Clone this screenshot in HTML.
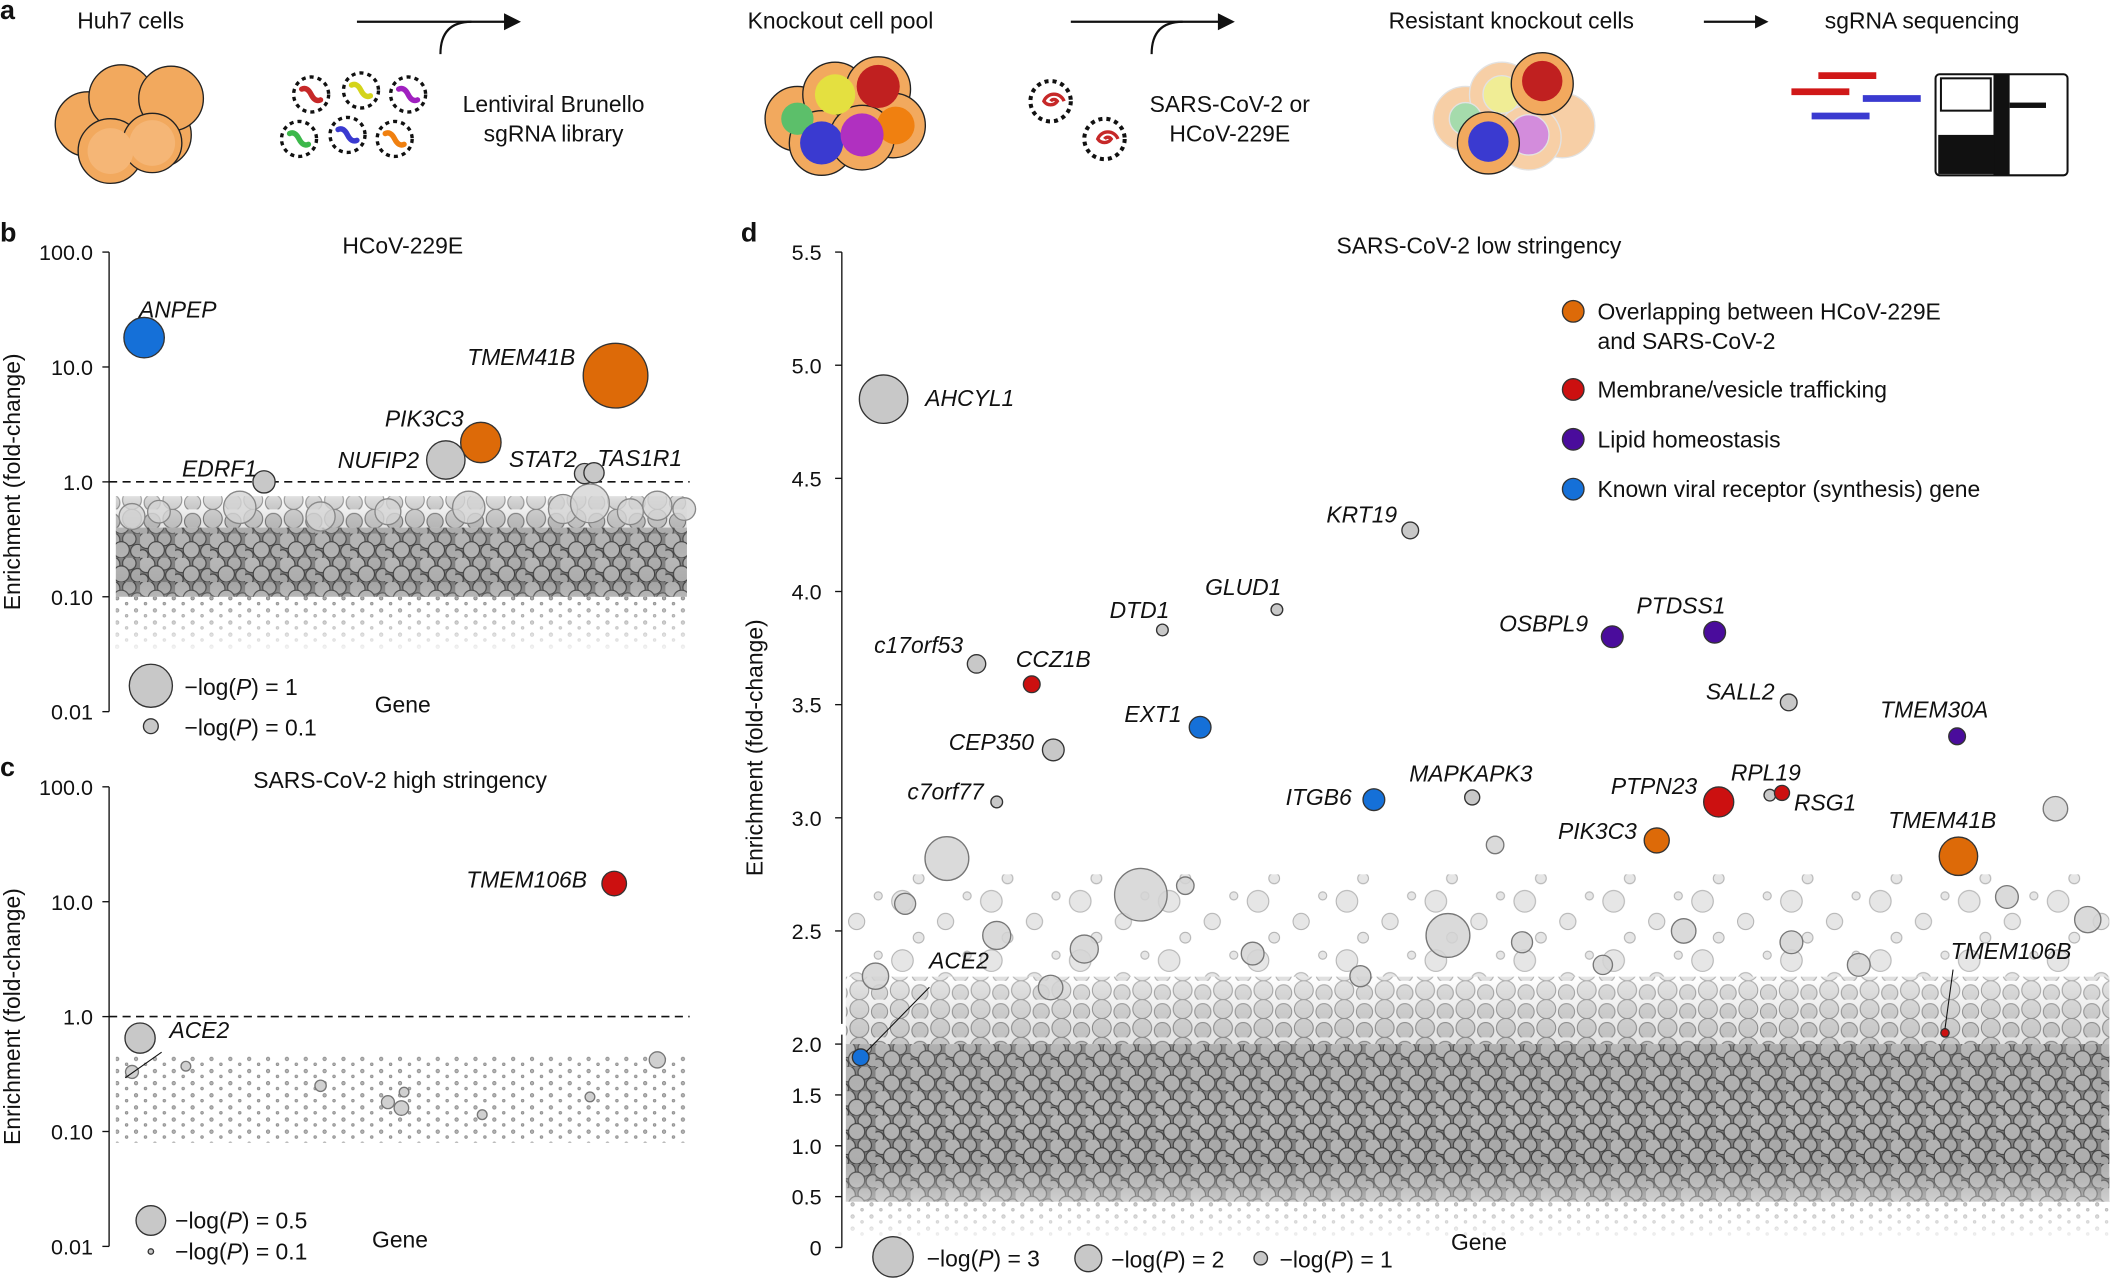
<!DOCTYPE html>
<html><head><meta charset="utf-8"><style>
html,body{margin:0;padding:0;background:#fff}
svg{display:block}
text{font-family:"Liberation Sans",Arial,sans-serif;fill:#111}
.gn{font-style:italic;font-size:17px}
.tk{font-size:16px}
.ti{font-size:17px}
</style></head><body>
<svg id="fig" xmlns="http://www.w3.org/2000/svg" width="2112" height="1280" viewBox="0 0 1568 950">
<defs>
<pattern id="dense" width="26" height="18" patternUnits="userSpaceOnUse">
<rect width="26" height="18" fill="#8e8e8e"/>
<circle cx="5" cy="5" r="6" fill="#c8c8c8" stroke="#444" stroke-width="0.8"/>
<circle cx="18" cy="4" r="5" fill="#bdbdbd" stroke="#444" stroke-width="0.8"/>
<circle cx="12" cy="12" r="6" fill="#c4c4c4" stroke="#444" stroke-width="0.8"/>
<circle cx="24" cy="13" r="5" fill="#bbb" stroke="#444" stroke-width="0.8"/>
<circle cx="2" cy="16" r="4" fill="#bbb" stroke="#444" stroke-width="0.8"/>
</pattern>
<pattern id="bubbly" width="66" height="44" patternUnits="userSpaceOnUse">
<circle cx="10" cy="9" r="8" fill="#d2d2d2" stroke="#777" stroke-width="0.8"/>
<circle cx="42" cy="24" r="6" fill="#d2d2d2" stroke="#777" stroke-width="0.8"/>
<circle cx="22" cy="36" r="4" fill="#d2d2d2" stroke="#777" stroke-width="0.8"/>
<circle cx="58" cy="5" r="3" fill="#d2d2d2" stroke="#777" stroke-width="0.8"/>
</pattern>
<pattern id="bubblyB" width="30" height="14" patternUnits="userSpaceOnUse">
<circle cx="8" cy="7" r="7" fill="#cfcfcf" stroke="#666" stroke-width="0.8"/>
<circle cx="23" cy="9" r="6" fill="#c6c6c6" stroke="#666" stroke-width="0.8"/>
</pattern>
<pattern id="sparse" width="14" height="9" patternUnits="userSpaceOnUse">
<circle cx="3" cy="3" r="1.3" fill="#999" stroke="#555" stroke-width="0.5"/>
<circle cx="10" cy="7" r="1" fill="#999" stroke="#555" stroke-width="0.5"/>
</pattern>
<linearGradient id="fadeB" x1="0" y1="0" x2="0" y2="1"><stop offset="0" stop-color="#fff" stop-opacity="0"/><stop offset="1" stop-color="#fff" stop-opacity="0.9"/></linearGradient>
<linearGradient id="darkB" x1="0" y1="0" x2="0" y2="1"><stop offset="0" stop-color="#fff" stop-opacity="0.35"/><stop offset="0.6" stop-color="#000" stop-opacity="0.08"/><stop offset="1" stop-color="#000" stop-opacity="0.15"/></linearGradient>
</defs>

<!-- Panel a -->
<g>
<text x="0" y="14" font-size="20" font-weight="bold">a</text>
<text x="97" y="21" class="ti" text-anchor="middle">Huh7 cells</text>
<g fill="#f2a95e" stroke="#222" stroke-width="1">
<circle cx="65" cy="92" r="24"/><circle cx="118" cy="100" r="24"/><circle cx="90" cy="72" r="24"/><circle cx="127" cy="73" r="24"/><circle cx="82" cy="112" r="24"/><circle cx="113" cy="106" r="22"/>
<circle cx="113" cy="106" r="17" fill="#f5b676" stroke="none"/><circle cx="82" cy="112" r="17" fill="#f5b676" stroke="none"/>
</g>
<g stroke="#111" stroke-width="1.6" fill="none"><line x1="265" y1="16" x2="382" y2="16"/><path d="M327 40 Q327 16 350 16"/><path d="M375 11 L385 16 L375 21 Z" fill="#111"/></g>
<g fill="#fff" stroke="#111" stroke-width="2.5" stroke-dasharray="3 3">
<circle cx="231" cy="70" r="13"/><circle cx="268" cy="67" r="13"/><circle cx="303" cy="70" r="13"/><circle cx="222" cy="103" r="13"/><circle cx="258" cy="100" r="13"/><circle cx="293" cy="103" r="13"/>
</g>
<g stroke-width="4" fill="none" stroke-linecap="round">
<path d="M224 66 q4 -2 7 4 q3 6 7 4" stroke="#c62828"/><path d="M261 63 q4 -2 7 4 q3 6 7 4" stroke="#d4d41a"/><path d="M296 66 q4 -2 7 4 q3 6 7 4" stroke="#a020c0"/><path d="M215 99 q4 -2 7 4 q3 6 7 4" stroke="#3cb84a"/><path d="M251 96 q4 -2 7 4 q3 6 7 4" stroke="#3a3ad0"/><path d="M286 99 q4 -2 7 4 q3 6 7 4" stroke="#f08010"/>
</g>
<text x="411" y="83" class="ti" text-anchor="middle">Lentiviral Brunello</text>
<text x="411" y="105" class="ti" text-anchor="middle">sgRNA library</text>
<text x="624" y="21" class="ti" text-anchor="middle">Knockout cell pool</text>
<g stroke="#222" stroke-width="1">
<circle cx="592" cy="88" r="24" fill="#f2a95e"/><circle cx="620" cy="70" r="24" fill="#f2a95e"/><circle cx="652" cy="66" r="24" fill="#f2a95e"/><circle cx="663" cy="93" r="24" fill="#f2a95e"/><circle cx="610" cy="106" r="24" fill="#f2a95e"/><circle cx="640" cy="102" r="24" fill="#f2a95e"/>
<circle cx="592" cy="88" r="12" fill="#5cbf6a" stroke="none"/><circle cx="620" cy="70" r="15" fill="#e4e040" stroke="none"/><circle cx="652" cy="64" r="16" fill="#c02020" stroke="none"/><circle cx="665" cy="93" r="14" fill="#f08010" stroke="none"/><circle cx="610" cy="106" r="16" fill="#3a3ad0" stroke="none"/><circle cx="640" cy="100" r="16" fill="#b030c0" stroke="none"/>
</g>
<g stroke="#111" stroke-width="1.6" fill="none"><line x1="795" y1="16" x2="912" y2="16"/><path d="M855 40 Q855 16 878 16"/><path d="M905 11 L915 16 L905 21 Z" fill="#111"/></g>
<g><circle cx="780" cy="75" r="15" fill="#fff" stroke="#111" stroke-width="3" stroke-dasharray="3 3"/><circle cx="820" cy="103" r="15" fill="#fff" stroke="#111" stroke-width="3" stroke-dasharray="3 3"/>
<path d="M780 75 a3 3 0 0 1 5 0 a6 6 0 0 1 -10 0 a8 8 0 0 1 15 0" stroke="#c62828" stroke-width="2.5" fill="none"/><path d="M820 103 a3 3 0 0 1 5 0 a6 6 0 0 1 -10 0 a8 8 0 0 1 15 0" stroke="#c62828" stroke-width="2.5" fill="none"/></g>
<text x="913" y="83" class="ti" text-anchor="middle">SARS-CoV-2 or</text>
<text x="913" y="105" class="ti" text-anchor="middle">HCoV-229E</text>
<text x="1122" y="21" class="ti" text-anchor="middle">Resistant knockout cells</text>
<g stroke="#ccc" stroke-width="1" opacity="0.55">
<circle cx="1088" cy="88" r="24" fill="#f2a95e"/><circle cx="1115" cy="70" r="24" fill="#f2a95e"/><circle cx="1160" cy="93" r="24" fill="#f2a95e"/><circle cx="1135" cy="102" r="24" fill="#f2a95e"/>
<circle cx="1088" cy="88" r="12" fill="#5cbf6a"/><circle cx="1115" cy="70" r="14" fill="#e4e040"/><circle cx="1135" cy="100" r="15" fill="#b030c0"/></g>
<g stroke="#222"><circle cx="1145" cy="62" r="23" fill="#f2a95e"/><circle cx="1145" cy="60" r="15" fill="#c02020" stroke="none"/><circle cx="1105" cy="106" r="23" fill="#f2a95e"/><circle cx="1105" cy="105" r="15" fill="#3a3ad0" stroke="none"/></g>
<g><line x1="1265" y1="16" x2="1305" y2="16" stroke="#111" stroke-width="1.6"/><path d="M1303 11 L1313 16 L1303 21 Z" fill="#111"/></g>
<text x="1427" y="21" class="ti" text-anchor="middle">sgRNA sequencing</text>
<g stroke-width="5">
<line x1="1350" y1="56" x2="1393" y2="56" stroke="#d01818"/><line x1="1330" y1="68" x2="1373" y2="68" stroke="#d01818"/><line x1="1383" y1="73" x2="1426" y2="73" stroke="#3a3ad0"/><line x1="1345" y1="86" x2="1388" y2="86" stroke="#3a3ad0"/>
<rect x="1437" y="55" width="98" height="75" rx="3" fill="#fff" stroke="#111" stroke-width="1.5"/><rect x="1441" y="58" width="37" height="24" fill="#fff" stroke="#111" stroke-width="1.5"/><rect x="1480" y="55" width="12" height="75" fill="#111" stroke="none"/><rect x="1492" y="76" width="27" height="4" fill="#111" stroke="none"/><rect x="1439" y="100" width="42" height="29" fill="#111" stroke="none"/>
</g>
</g>

<g id="pb"></g>
<g id="pc"></g>
<g id="pd"></g>
</svg>
<script>
// ---------- Panel b data ----------
const bTicks = [100, 10, 1, 0.1, 0.01];
const bTickLabels = ["100.0", "10.0", "1.0", "0.10", "0.01"];
const bGenes = ["ANPEP", "TMEM41B", "PIK3C3", "NUFIP2", "EDRF1", "STAT2", "TAS1R1"];
const bRank = [19, 369, 269, 243, 108, 346, 353];
const bFold = [18, 8.4, 2.2, 1.55, 1.0, 1.18, 1.2];
const bSize = [1.0, 1.6, 1.0, 0.95, 0.55, 0.5, 0.5];
const bColor = ["blue", "orange", "orange", "grey", "grey", "grey", "grey"];
const bBgRank = [10, 30, 90, 150, 200, 260, 330, 350, 380, 400, 420];
const bBgFold = [0.5, 0.55, 0.6, 0.5, 0.55, 0.6, 0.58, 0.65, 0.55, 0.62, 0.58];
const bBgSize = [0.8, 0.7, 1.0, 0.9, 0.8, 1.0, 0.9, 1.2, 0.8, 0.9, 0.7];
// ---------- Panel c data ----------
const cGenes = ["TMEM106B", "ACE2"];
const cRank = [368, 16];
const cFold = [14.4, 0.65];
const cSize = [0.65, 0.8];
const cColor = ["red", "grey"];
const cBgRank = [10, 50, 150, 200, 210, 350, 400, 212, 270];
const cBgFold = [0.33, 0.37, 0.25, 0.18, 0.16, 0.2, 0.42, 0.22, 0.14];
const cBgSize = [0.4, 0.3, 0.35, 0.4, 0.45, 0.3, 0.5, 0.3, 0.3];
// ---------- Panel d data ----------
const dTicksUpper = [5.5, 5.0, 4.5, 4.0, 3.5, 3.0, 2.5];
const dTicksLower = [2.0, 1.5, 1.0, 0.5, 0];
const dGenes = ["AHCYL1","KRT19","DTD1","GLUD1","c17orf53","CCZ1B","EXT1","CEP350","c7orf77","ITGB6","MAPKAPK3","OSBPL9","PTDSS1","SALL2","TMEM30A","PTPN23","RPL19","RSG1","PIK3C3","TMEM41B","TMEM106B","ACE2"];
const dRank = [26,417,233,318,95,136,261,152,110,390,463,567,643,698,823,646,684,693,600,824,814,9];
const dFold = [4.85,4.27,3.83,3.92,3.68,3.59,3.40,3.30,3.07,3.08,3.09,3.80,3.82,3.51,3.36,3.07,3.10,3.11,2.90,2.83,2.11,1.87];
const dSize = [2.9,1.0,0.7,0.7,1.1,1.0,1.3,1.3,0.7,1.3,0.9,1.3,1.3,1.0,1.0,1.8,0.7,0.9,1.5,2.3,0.5,1.0];
const dColor = ["grey","grey","grey","grey","grey","red","blue","grey","grey","blue","grey","purple","purple","grey","purple","red","grey","red","orange","orange","red","blue"];
const dBgRank = [73,217,445,896,110,175,42,20,300,500,620,750,860,920,380,560,700,150,250,480];
const dBgFold = [2.82,2.66,2.48,3.04,2.48,2.42,2.62,2.3,2.4,2.45,2.5,2.35,2.65,2.55,2.3,2.35,2.45,2.25,2.7,2.88];
const dBgSize = [2.5,3.0,2.5,1.4,1.6,1.6,1.2,1.5,1.3,1.2,1.4,1.3,1.3,1.5,1.2,1.1,1.3,1.4,1.0,1.0];

const NS = "http://www.w3.org/2000/svg";
const COL = {grey:"#c8c8c8", blue:"#1570d8", orange:"#dd6a08", red:"#cc1010", purple:"#4a0c9c"};
const TXT = {grey:"#111", blue:"#1570d8", orange:"#dd6a08", red:"#cc1010", purple:"#4a0c9c"};
function mk(parent, tag, attrs, text) {
  const e = document.createElementNS(NS, tag);
  for (const k in attrs) e.setAttribute(k, attrs[k]);
  if (text !== undefined) e.textContent = text;
  parent.appendChild(e);
  return e;
}
function logY(top, perDec) { return v => top + (2 - Math.log10(v)) * perDec; }

function labelledPoint(g, x, y, r, color, name, lx, ly, anchor) {
  const c = mk(g, "circle", {cx:x, cy:y, r:r, fill:COL[color], stroke:"#333", "stroke-width":1});
  
  
  const t = mk(g, "text", {x:lx, y:ly, class:"gn", fill:TXT[color], "text-anchor":anchor||"middle"}, name);
  
  
}

function logPanel(g, top, letter, title, titleX, ticks, labels) {
  const y = logY(top, 85.3);
  mk(g, "text", {x:0, y:top-8, "font-size":20, "font-weight":"bold"}, letter);
  const tt = mk(g, "text", {x:titleX, y:top+1, class:"ti", "text-anchor":"middle"}, title);
  
  
  mk(g, "line", {x1:81, y1:y(ticks[0]), x2:81, y2:y(ticks[ticks.length-1]), stroke:"#111", "stroke-width":1});
  ticks.forEach((t, i) => {
    mk(g, "line", {x1:76, y1:y(t), x2:81, y2:y(t), stroke:"#111"});
    const l = mk(g, "text", {x:69, y:y(t)+6, class:"tk", "text-anchor":"end"}, labels[i]);
    
    
  });
  const yt = mk(g, "text", {x:0, y:0, class:"ti", "text-anchor":"middle", transform:`translate(15,${y(1)}) rotate(-90)`}, "Enrichment (fold-change)");
  
  
  return y;
}
function dashed(g, y) {
  const dl = mk(g, "line", {x1:81, y1:y, x2:512, y2:y, stroke:"#111", "stroke-width":1.2, "stroke-dasharray":"6 4"});
  
  
}

// ---- Panel b ----
(function(){
  const g = document.getElementById("pb");
  const y = logPanel(g, 187, "b", "HCoV-229E", 299, bTicks, bTickLabels);
  const x = r => 88 + r;
  mk(g, "rect", {x:86, y:y(0.75), width:424, height:y(0.4)-y(0.75), fill:"url(#bubblyB)"});
  const cl = mk(g, "rect", {x:86, y:y(0.4), width:424, height:y(0.1)-y(0.4), fill:"url(#dense)"});
  
  
  mk(g, "rect", {x:86, y:y(0.75), width:424, height:y(0.1)-y(0.75), fill:"url(#darkB)"});
  mk(g, "rect", {x:86, y:y(0.1), width:424, height:y(0.035)-y(0.1), fill:"url(#sparse)"});
  mk(g, "rect", {x:86, y:y(0.13), width:424, height:y(0.035)-y(0.13), fill:"url(#fadeB)"});
  bBgRank.forEach((r, i) => {
    const c = mk(g, "circle", {cx:x(r), cy:y(bBgFold[i]), r:bBgSize[i]*12, fill:"#d4d4d4", stroke:"#888", "fill-opacity":0.8});
    
    
  });
  dashed(g, y(1));
  const off = {ANPEP:[25,-20,"middle"], TMEM41B:[-70,-13,"middle"], PIK3C3:[-42,-17,"middle"], NUFIP2:[-50,1,"middle"], EDRF1:[-33,-9,"middle"], STAT2:[-31,-10,"middle"], TAS1R1:[34,-10,"middle"]};
  bGenes.forEach((n, i) => {
    const cx = x(bRank[i]), cy = y(bFold[i]), o = off[n];
    labelledPoint(g, cx, cy, bSize[i]*15, bColor[i], n, cx+o[0], cy+o[1]+5, o[2]);
  });
  mk(g, "circle", {cx:112, cy:509, r:16, fill:"#c8c8c8", stroke:"#333"});
  const t1 = mk(g, "text", {x:137, y:516, class:"ti"});
   
  t1.innerHTML = "\u2212log(<tspan font-style='italic'>P</tspan>) = 1";
  mk(g, "circle", {cx:112, cy:539, r:5.5, fill:"#c8c8c8", stroke:"#333"});
  const t2 = mk(g, "text", {x:137, y:546, class:"ti"});
   
  t2.innerHTML = "\u2212log(<tspan font-style='italic'>P</tspan>) = 0.1";
  const gx = mk(g, "text", {x:299, y:529, class:"ti", "text-anchor":"middle"}, "Gene");
   
})();

// ---- Panel c ----
(function(){
  const g = document.getElementById("pc");
  const y = logPanel(g, 584, "c", "SARS-CoV-2 high stringency", 297, bTicks, bTickLabels);
  const x = r => 88 + r;
  const cl = mk(g, "rect", {x:86, y:y(0.45), width:424, height:y(0.08)-y(0.45), fill:"url(#sparse)", opacity:0.75});
  
  
  cBgRank.forEach((r, i) => {
    const c = mk(g, "circle", {cx:x(r), cy:y(cBgFold[i]), r:cBgSize[i]*12, fill:"#d0d0d0", stroke:"#777"});
    
    
  });
  dashed(g, y(1));
  const off = {TMEM106B:[-65,-2,"middle"], ACE2:[44,-5,"middle"]};
  cGenes.forEach((n, i) => {
    const cx = x(cRank[i]), cy = y(cFold[i]), o = off[n];
    labelledPoint(g, cx, cy, cSize[i]*14, cColor[i], n, cx+o[0], cy+o[1]+5, o[2]);
  });
  g.lastChild.setAttribute("fill", COL.blue);
  mk(g, "line", {x1:93, y1:800, x2:120, y2:781, stroke:"#111", "stroke-width":0.8});
  mk(g, "circle", {cx:112, cy:906, r:11, fill:"#c8c8c8", stroke:"#333"});
  const t1 = mk(g, "text", {x:130, y:912, class:"ti"});
   
  t1.innerHTML = "\u2212log(<tspan font-style='italic'>P</tspan>) = 0.5";
  mk(g, "circle", {cx:112, cy:929, r:2, fill:"#c8c8c8", stroke:"#333"});
  const t2 = mk(g, "text", {x:130, y:935, class:"ti"});
   
  t2.innerHTML = "\u2212log(<tspan font-style='italic'>P</tspan>) = 0.1";
  const gx = mk(g, "text", {x:297, y:926, class:"ti", "text-anchor":"middle"}, "Gene");
   
})();

// ---- Panel d ----
(function(){
  const g = document.getElementById("pd");
  const yU = v => 187 + (5.5 - v) * 168;
  const yL = v => 926 - v * 75.5;
  const y = v => v >= 2.2 ? yU(v) : yL(v);
  const x = r => 630 + r;
  mk(g, "text", {x:550, y:179, "font-size":20, "font-weight":"bold"}, "d");
  const tt = mk(g, "text", {x:1098, y:188, class:"ti", "text-anchor":"middle"}, "SARS-CoV-2 low stringency");
   
  mk(g, "line", {x1:625, y1:yU(5.5), x2:625, y2:760, stroke:"#111"});
  mk(g, "line", {x1:625, y1:768, x2:625, y2:yL(0), stroke:"#111"});
  dTicksUpper.forEach(t => {
    mk(g, "line", {x1:620, y1:yU(t), x2:625, y2:yU(t), stroke:"#111"});
    const l = mk(g, "text", {x:610, y:yU(t)+6, class:"tk", "text-anchor":"end"}, t.toFixed(1));
     
  });
  dTicksLower.forEach(t => {
    mk(g, "line", {x1:620, y1:yL(t), x2:625, y2:yL(t), stroke:"#111"});
    const l = mk(g, "text", {x:610, y:yL(t)+6, class:"tk", "text-anchor":"end"}, t === 0 ? "0" : t.toFixed(1));
     
  });
  const yt = mk(g, "text", {x:0, y:0, class:"ti", "text-anchor":"middle", transform:"translate(566,555) rotate(-90)"}, "Enrichment (fold-change)");
   
  mk(g, "rect", {x:628, y:yU(2.75), width:938, height:725-yU(2.75), fill:"url(#bubbly)", opacity:0.55});
  mk(g, "rect", {x:628, y:725, width:938, height:50, fill:"url(#bubblyB)", opacity:0.8});
  const cl = mk(g, "rect", {x:628, y:yL(2.0), width:938, height:yL(0.45)-yL(2.0), fill:"url(#dense)"});
   
  mk(g, "rect", {x:628, y:725, width:938, height:yL(0.45)-725, fill:"url(#darkB)"});
  mk(g, "rect", {x:628, y:yL(0.45), width:938, height:yL(0.1)-yL(0.45), fill:"url(#sparse)"});
  mk(g, "rect", {x:628, y:yL(0.8), width:938, height:yL(0.1)-yL(0.8), fill:"url(#fadeB)"});
  dBgRank.forEach((r, i) => {
    const c = mk(g, "circle", {cx:x(r), cy:y(dBgFold[i]), r:dBgSize[i]*6.5, fill:"#d4d4d4", stroke:"#777", "fill-opacity":0.85});
     
  });
  const off = {AHCYL1:[64,0,"middle"],KRT19:[-36,-11,"middle"],DTD1:[-17,-14,"middle"],GLUD1:[-25,-16,"middle"],c17orf53:[-43,-13,"middle"],CCZ1B:[16,-18,"middle"],EXT1:[-35,-9,"middle"],CEP350:[-46,-5,"middle"],c7orf77:[-38,-7,"middle"],ITGB6:[-41,-1,"middle"],MAPKAPK3:[-1,-17,"middle"],OSBPL9:[-51,-9,"middle"],PTDSS1:[-25,-19,"middle"],SALL2:[-36,-7,"middle"],TMEM30A:[-17,-19,"middle"],PTPN23:[-48,-11,"middle"],RPL19:[-3,-16,"middle"],RSG1:[32,8,"middle"],PIK3C3:[-44,-6,"middle"],TMEM41B:[-12,-26,"middle"],TMEM106B:[49,-60,"middle"],ACE2:[73,-71,"middle"]};
  dGenes.forEach((n, i) => {
    const cx = x(dRank[i]), cy = y(dFold[i]), o = off[n];
    labelledPoint(g, cx, cy, dSize[i]*6.2, dColor[i], n, cx+o[0], cy+o[1]+5, o[2]);
  });
  mk(g, "line", {x1:x(dRank[20])+6, y1:y(dFold[20])-47, x2:x(dRank[20]), y2:y(dFold[20])-3, stroke:"#111", "stroke-width":0.8});
  mk(g, "line", {x1:x(dRank[21])+51, y1:y(dFold[21])-52, x2:x(dRank[21])+4, y2:y(dFold[21])-4, stroke:"#111", "stroke-width":0.8});
  const leg = [["orange","Overlapping between HCoV-229E",231],["red","Membrane/vesicle trafficking",289],["purple","Lipid homeostasis",326],["blue","Known viral receptor (synthesis) gene",363]];
  leg.forEach(l => {
    const c = mk(g, "circle", {cx:1168, cy:l[2], r:8, fill:COL[l[0]], stroke:"#333"});
     
    const t = mk(g, "text", {x:1186, y:l[2]+6, class:"ti"}, l[1]);
     
  });
  mk(g, "text", {x:1186, y:259, class:"ti"}, "and SARS-CoV-2");
  const sz = [[663,933,15,688,"3"],[808,934,10,825,"2"],[936,934,5,950,"1"]];
  sz.forEach(s => {
    mk(g, "circle", {cx:s[0], cy:s[1], r:s[2], fill:"#c8c8c8", stroke:"#333"});
    const t = mk(g, "text", {x:s[3], y:s[1]+7, class:"ti"});
     
    t.innerHTML = "\u2212log(<tspan font-style='italic'>P</tspan>) = " + s[4];
  });
  const gx = mk(g, "text", {x:1098, y:928, class:"ti", "text-anchor":"middle"}, "Gene");
   
})();
</script>
</body></html>
